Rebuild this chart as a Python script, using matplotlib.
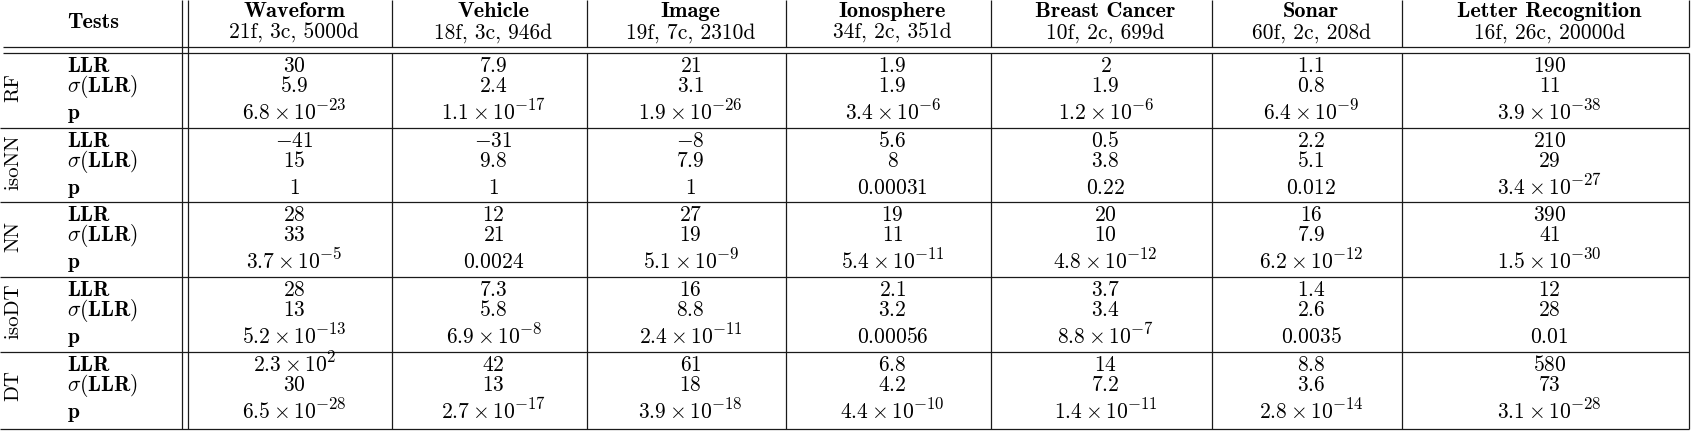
import matplotlib
matplotlib.use("Agg")
import matplotlib.pyplot as plt

plt.rcParams['mathtext.fontset'] = 'cm'

# Datensätze und Tabellenwerte
datasets = ['Waveform', 'Vehicle', 'Image', 'Ionosphere', 'Breast Cancer', 'Sonar', 'Letter Recognition']
dataset_info = ['21f, 3c, 5000d', '18f, 3c, 946d', '19f, 7c, 2310d', '34f, 2c, 351d',
                '10f, 2c, 699d', '60f, 2c, 208d', '16f, 26c, 20000d']
models = ['RF', 'isoNN', 'NN', 'isoDT', 'DT']

rf_llr = ['30', '7.9', '21', '1.9', '2', '1.1', '190']
rf_sigma = ['5.9', '2.4', '3.1', '1.9', '1.9', '0.8', '11']
rf_p = ['6.8e-23', '1.1e-17', '1.9e-26', '3.4e-6', '1.2e-6', '6.4e-9', '3.9e-38']

isonn_llr = ['-41', '-31', '-8', '5.6', '0.5', '2.2', '210']
isonn_sigma = ['15', '9.8', '7.9', '8', '3.8', '5.1', '29']
isonn_p = ['1', '1', '1', '0.00031', '0.22', '0.012', '3.4e-27']

nn_llr = ['28', '12', '27', '19', '20', '16', '390']
nn_sigma = ['33', '21', '19', '11', '10', '7.9', '41']
nn_p = ['3.7e-5', '0.0024', '5.1e-9', '5.4e-11', '4.8e-12', '6.2e-12', '1.5e-30']

isodt_llr = ['28', '7.3', '16', '2.1', '3.7', '1.4', '12']
isodt_sigma = ['13', '5.8', '8.8', '3.2', '3.4', '2.6', '28']
isodt_p = ['5.2e-13', '6.9e-8', '2.4e-11', '0.00056', '8.8e-7', '0.0035', '0.01']

dt_llr = ['2.3e2', '42', '61', '6.8', '14', '8.8', '580']
dt_sigma = ['30', '13', '18', '4.2', '7.2', '3.6', '73']
dt_p = ['6.5e-28', '2.7e-17', '3.9e-18', '4.4e-10', '1.4e-11', '2.8e-14', '3.1e-28']

table = [
    (rf_llr, rf_sigma, rf_p),
    (isonn_llr, isonn_sigma, isonn_p),
    (nn_llr, nn_sigma, nn_p),
    (isodt_llr, isodt_sigma, isodt_p),
    (dt_llr, dt_sigma, dt_p),
]
stat_labels = [r'$\mathbf{LLR}$', r'$\sigma\mathbf{(LLR)}$', r'$\mathbf{p}$']

# Layout (Pixel)
W, H = 1693, 433
col_edges = [188, 392, 587, 786, 991, 1212, 1402, 1689]
group_edges = [53, 128, 202, 277, 352, 429]
row_offsets = [19, 39, 66]
fs = 15.5
fs_bold = 16
fs_side = 15
lc = '#1a1a1a'
lw = 0.9

fig = plt.figure(figsize=(W / 100, H / 100), dpi=100)
ax = fig.add_axes([0, 0, 1, 1])
ax.set_xlim(0, W)
ax.set_ylim(H, 0)
ax.axis('off')
renderer = fig.canvas.get_renderer()


def col_x(j):
    return (col_edges[j] + col_edges[j + 1]) / 2 + 4


def cell(xc, yb, s):
    # Zahl zentriert, Exponent als eigener Text
    if 'e' not in s:
        ax.text(xc, yb, r'$%s$' % s, fontsize=fs, ha='center', va='baseline')
        return
    m, e = s.split('e')
    t1 = ax.text(0, yb, r'$%s \times 10$' % m, fontsize=fs, ha='left', va='baseline')
    t2 = ax.text(0, yb - 9, r'$%d$' % int(e), fontsize=fs * 0.78, ha='left', va='baseline')
    w1 = t1.get_window_extent(renderer).width
    w2 = t2.get_window_extent(renderer).width
    gap = -1.5
    x0 = xc - (w1 + w2 + gap) / 2
    t1.set_x(x0)
    t2.set_x(x0 + w1 + gap)


# Linien
ax.hlines([47, 53], 3, col_edges[-1], color=lc, lw=lw)
ax.hlines(group_edges[1:], 0, col_edges[-1], color=lc, lw=lw)
ax.vlines([182, 188], 0, group_edges[-1], color=lc, lw=lw)
ax.vlines(col_edges[1:], 0, 47, color=lc, lw=lw)
ax.vlines(col_edges[1:], 53, group_edges[-1], color=lc, lw=lw)

# Kopfzeile
ax.text(67, 28, 'Tests', fontfamily='cmb10', fontsize=fs_bold, ha='left', va='baseline')
for j, (name, info) in enumerate(zip(datasets, dataset_info)):
    ax.text(col_x(j), 17, name, fontfamily='cmb10', fontsize=fs_bold, ha='center', va='baseline')
    ax.text(col_x(j), 39, info, fontfamily='cmr10', fontsize=fs, ha='center', va='baseline')

# Körper
for g, (model, rows) in enumerate(zip(models, table)):
    top = group_edges[g]
    ax.text(13, top + 34, model, fontfamily='cmr10', fontsize=fs_side, rotation=90,
            ha='center', va='center')
    for r, (label, vals) in enumerate(zip(stat_labels, rows)):
        yb = top + row_offsets[r]
        ax.text(67, yb, label, fontsize=fs, ha='left', va='baseline')
        for j, v in enumerate(vals):
            cell(col_x(j), yb, v)

fig.savefig('out.png', dpi=100)
